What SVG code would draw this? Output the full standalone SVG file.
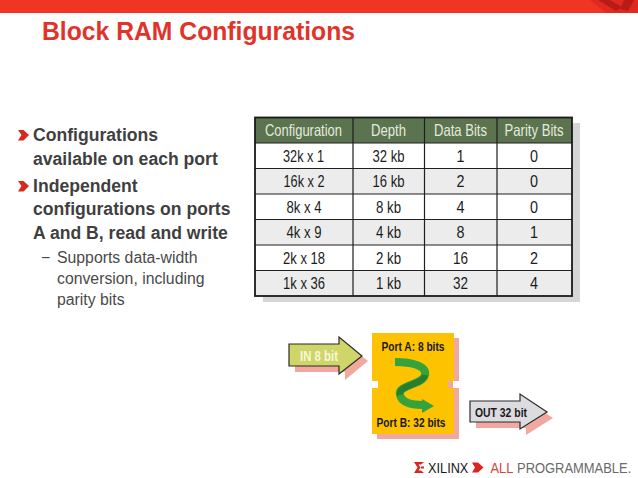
<svg xmlns="http://www.w3.org/2000/svg" width="638" height="478" viewBox="0 0 638 478">
<style>
text{font-family:"Liberation Sans",Arial,sans-serif}
.cell{font-size:16.5px;fill:#1c1c1c;text-anchor:middle}
.head{font-size:16.5px;fill:#e4ebdc;text-anchor:middle}
.b{font-size:17.600px;font-weight:bold;fill:#3f3f3f}
.s{font-size:15.800px;fill:#4a4a4a}
.g{stroke:#1f1f1f;stroke-width:1.2;fill:none}
.lbl{font-size:12.500px;font-weight:bold;fill:#1a1a1a;text-anchor:middle}
</style>
<defs>
<path id="chev" d="M0 0H5.500L11 5L5.500 10.500H0L3.500 5Z" fill="#d8281e"/>
</defs>
<rect width="638" height="478" fill="#fff"/>
<g id="banner">
<rect width="638" height="13" fill="#f03524"/>
<path d="M590 0H638V13H606Z" fill="#e02a20"/>
<path d="M598 0H610L622 7L616 11ZM624 0H634L628 11L620 9Z" fill="#b81c18"/>
<text x="42" y="40" font-size="25" font-weight="bold" fill="#e0342a" textLength="313" lengthAdjust="spacingAndGlyphs">Block RAM Configurations</text>
</g>
<g id="bullets">
<use href="#chev" x="18" y="130"/>
<use href="#chev" x="18" y="181"/>
<text class="b" x="33" y="141">Configurations</text>
<text class="b" x="33" y="165">available on each port</text>
<text class="b" x="33" y="192">Independent</text>
<text class="b" x="33" y="215">configurations on ports</text>
<text class="b" x="33" y="239">A and B, read and write</text>
<text class="s" x="41" y="263">−</text>
<text class="s" x="57" y="263">Supports data-width</text>
<text class="s" x="57" y="284">conversion, including</text>
<text class="s" x="57" y="305">parity bits</text>
</g>
<g id="table">
<rect x="263" y="123" width="317" height="179" fill="#d6d6d6"/>
<rect x="255" y="117.500" width="317" height="178.500" fill="#fff"/>
<rect x="255" y="117.500" width="317" height="25.500" fill="#5c7350"/>
<rect x="255" y="168.500" width="317" height="25.500" fill="#ececec"/>
<rect x="255" y="219.500" width="317" height="25.500" fill="#ececec"/>
<rect x="255" y="270.500" width="317" height="25.500" fill="#ececec"/>
<path class="g" d="M255 143H572M255 168.500H572M255 194H572M255 219.500H572M255 245H572M255 270.500H572M353 117.500V296M424.500 117.500V296M497 117.500V296"/>
<rect x="255" y="117.500" width="317" height="178.500" fill="none" stroke="#1a1a1a" stroke-width="1.800"/>
<text class="head" x="303.500" y="136" textLength="77" lengthAdjust="spacingAndGlyphs">Configuration</text>
<text class="head" x="388.500" y="136" textLength="35" lengthAdjust="spacingAndGlyphs">Depth</text>
<text class="head" x="460.500" y="136" textLength="53" lengthAdjust="spacingAndGlyphs">Data Bits</text>
<text class="head" x="534" y="136" textLength="59" lengthAdjust="spacingAndGlyphs">Parity Bits</text>
<g>
<text class="cell" x="303.500" y="162" textLength="41" lengthAdjust="spacingAndGlyphs">32k x 1</text><text class="cell" x="388.500" y="162" textLength="32" lengthAdjust="spacingAndGlyphs">32 kb</text><text class="cell" x="460.500" y="162" textLength="8" lengthAdjust="spacingAndGlyphs">1</text><text class="cell" x="534" y="162" textLength="8" lengthAdjust="spacingAndGlyphs">0</text>
<text class="cell" x="304" y="187" textLength="41" lengthAdjust="spacingAndGlyphs">16k x 2</text><text class="cell" x="388.500" y="187" textLength="32" lengthAdjust="spacingAndGlyphs">16 kb</text><text class="cell" x="460.500" y="187" textLength="8" lengthAdjust="spacingAndGlyphs">2</text><text class="cell" x="534" y="187" textLength="8" lengthAdjust="spacingAndGlyphs">0</text>
<text class="cell" x="304" y="213" textLength="35" lengthAdjust="spacingAndGlyphs">8k x 4</text><text class="cell" x="388.500" y="213" textLength="25" lengthAdjust="spacingAndGlyphs">8 kb</text><text class="cell" x="460.500" y="213" textLength="8" lengthAdjust="spacingAndGlyphs">4</text><text class="cell" x="534" y="213" textLength="8" lengthAdjust="spacingAndGlyphs">0</text>
<text class="cell" x="304" y="238" textLength="35" lengthAdjust="spacingAndGlyphs">4k x 9</text><text class="cell" x="388.500" y="238" textLength="25" lengthAdjust="spacingAndGlyphs">4 kb</text><text class="cell" x="460.500" y="238" textLength="8" lengthAdjust="spacingAndGlyphs">8</text><text class="cell" x="534" y="238" textLength="8" lengthAdjust="spacingAndGlyphs">1</text>
<text class="cell" x="304" y="264" textLength="42" lengthAdjust="spacingAndGlyphs">2k x 18</text><text class="cell" x="388.500" y="264" textLength="25" lengthAdjust="spacingAndGlyphs">2 kb</text><text class="cell" x="460.500" y="264" textLength="15" lengthAdjust="spacingAndGlyphs">16</text><text class="cell" x="534" y="264" textLength="8" lengthAdjust="spacingAndGlyphs">2</text>
<text class="cell" x="304" y="289" textLength="42" lengthAdjust="spacingAndGlyphs">1k x 36</text><text class="cell" x="388.500" y="289" textLength="25" lengthAdjust="spacingAndGlyphs">1 kb</text><text class="cell" x="460.500" y="289" textLength="15" lengthAdjust="spacingAndGlyphs">32</text><text class="cell" x="534" y="289" textLength="8" lengthAdjust="spacingAndGlyphs">4</text>
</g>
</g>
<g id="in-arrow">
<path d="M295 350H345V343L368 361L345 380V372H295Z" fill="#f0a8a0"/>
<path d="M289 344H339V337L362 356L339 374V366H289Z" fill="#cfd568" stroke="#2a2a2a" stroke-width="1.200"/>
<text x="319" y="361" font-size="14.500" font-weight="bold" fill="#f6f8d8" text-anchor="middle" textLength="38" lengthAdjust="spacingAndGlyphs">IN 8 bit</text>
</g>
<g id="ports">
<path d="M377 338H459V381H453V388H459V439H377V388H383V381H377Z" fill="#f0a8a0"/>
<path d="M372 333H454V381H448V388H454V434H372V388H378V381H372Z" fill="#fdc300"/>
<text class="lbl" x="413" y="351" textLength="63" lengthAdjust="spacingAndGlyphs">Port A: 8 bits</text>
<text class="lbl" x="411" y="427" textLength="69" lengthAdjust="spacingAndGlyphs">Port B: 32 bits</text>
<path d="M395 362C412 362 427 366 425 375C423 385 397 385 400 395C402 403 412 405 423 405" fill="none" stroke="#35a23a" stroke-width="8"/>
<path d="M425 375C423 385 397 385 400 395" fill="none" stroke="#2a7d2d" stroke-width="6"/>
<path d="M422 399L434 406L422 413Z" fill="#35a23a"/>
</g>
<g id="out-arrow">
<path d="M476 407H526V400L553 418L526 435V428H476Z" fill="#f0a8a0"/>
<path d="M470 401H520V394L547 412L520 429V422H470Z" fill="#dcdce0" stroke="#2a2a2a" stroke-width="1.200"/>
<text x="501" y="417" font-size="13" font-weight="bold" fill="#1a1a1a" text-anchor="middle" textLength="52" lengthAdjust="spacingAndGlyphs">OUT 32 bit</text>
</g>
<g id="logo">
<path d="M414 462H424L421 464.500H418.500L420.500 467.500L418.500 470.500H421L424 473H414L417.500 467.500Z" fill="#d8281e"/>
<path d="M421 466.500H424V468.500H421Z" fill="#d8281e"/>
<text transform="translate(428 472.500) scale(.88 1)" font-size="14.500" fill="#1a1a1a">XILINX</text>
<path d="M472 462.500H478L483.500 467.500L478 472.500H472L475 467.500Z" fill="#d8281e"/>
<text transform="translate(490.500 472.500) scale(.92 1)" font-size="14" fill="#d8403a">ALL</text>
<text transform="translate(517 472.500) scale(.925 1)" font-size="14" fill="#6a6a6a">PROGRAMMABLE.</text>
</g>
</svg>
